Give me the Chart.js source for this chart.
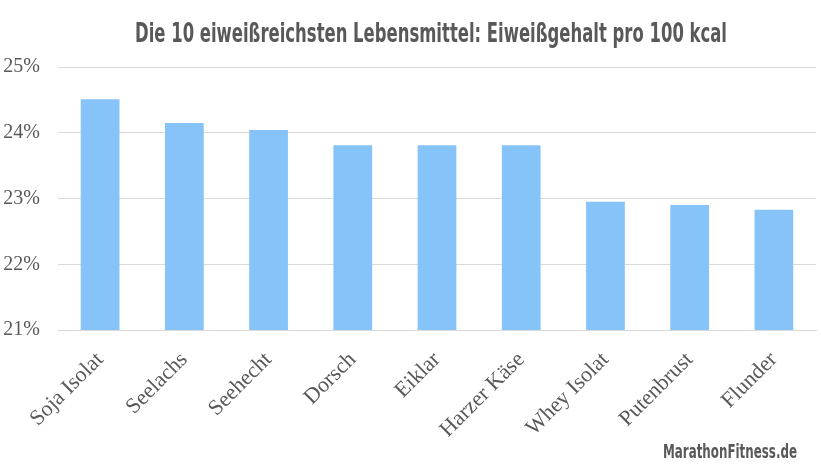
<!DOCTYPE html>
<html>
<head>
<meta charset="utf-8">
<script src="https://cdn.jsdelivr.net/npm/chart.js@4"></script>
<style>
  html, body { margin: 0; padding: 0; background: #fff; }
  #wrap { width: 821px; height: 471px; position: relative; }
</style>
</head>
<body>
<div id="wrap"><canvas id="proteinChart"></canvas></div>
<script>
const foods = ["Soja Isolat", "Seelachs", "Seehecht", "Dorsch", "Eiklar", "Harzer Käse", "Whey Isolat", "Putenbrust", "Flunder"];
const proteinPer100kcal = [24.51, 24.15, 24.04, 23.81, 23.81, 23.81, 22.95, 22.90, 22.83];
const yTicks = [21, 22, 23, 24, 25];

const titleText = "Die 10 eiweißreichsten Lebensmittel: Eiweißgehalt pro 100 kcal";
const sourceText = "MarathonFitness.de";
const condensed = '"Liberation Sans Narrow", "DejaVu Sans Condensed", sans-serif';
const serif = '"Liberation Serif", "DejaVu Serif", serif';

// title + watermark, squeezed to the reference widths
const textPlugin = {
  id: "texts",
  afterDraw(chart) {
    const c = chart.ctx;
    c.save();
    c.fillStyle = "#595959";
    c.textBaseline = "alphabetic";
    c.textAlign = "center";
    c.font = "bold 26px " + condensed;
    c.fillText(titleText, 431, 42, 592);
    c.textAlign = "right";
    c.font = "bold 20px " + condensed;
    c.fillText(sourceText, 797, 458, 134);
    c.restore();
  },
};

new Chart(document.getElementById("proteinChart"), {
  type: "bar",
  data: {
    labels: foods,
    datasets: [{
      data: proteinPer100kcal,
      backgroundColor: "#86c3f8",
      barPercentage: 0.46,
      categoryPercentage: 1,
    }],
  },
  options: {
    responsive: true,
    maintainAspectRatio: false,
    animation: false,
    layout: { padding: { top: 67, left: 3, right: 5, bottom: 0 } },
    plugins: {
      legend: { display: false },
      tooltip: { enabled: false },
    },
    scales: {
      x: {
        grid: { display: false },
        border: { color: "#d9d9d9" },
        ticks: {
          color: "#595959",
          font: { family: serif, size: 22 },
          minRotation: 45,
          maxRotation: 45,
          padding: 9,
        },
        afterFit: (s) => { s.height = 141; },
      },
      y: {
        min: yTicks[0],
        max: yTicks[yTicks.length - 1],
        grid: { color: "#d9d9d9", drawTicks: false },
        border: { display: false },
        afterBuildTicks: (s) => { s.ticks = yTicks.map((v) => ({ value: v })); },
        ticks: {
          color: "#595959",
          font: { family: serif, size: 20 },
          padding: 18,
          callback: (v) => v + "%",
        },
        afterFit: (s) => { s.width = 55; },
      },
    },
  },
  plugins: [textPlugin],
});
</script>
</body>
</html>
